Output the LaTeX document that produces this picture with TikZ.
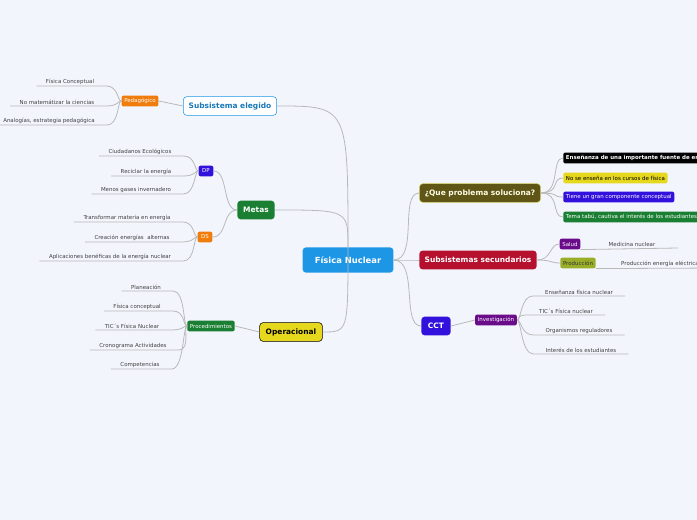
\documentclass[tikz,border=0pt]{standalone}
\usepackage{fontspec}
\setmainfont{DejaVu Sans}
\begin{document}
\begin{tikzpicture}[x=0.75pt,y=-0.75pt,
  conn/.style={draw=gray!55,line width=0.6pt},
  leaf/.style={inner sep=1pt,font=\fontsize{4.1}{5}\selectfont,text=black!75},
  tag/.style={rounded corners=1.5pt,inner sep=2pt,font=\fontsize{4.1}{5}\selectfont,minimum height=8pt},
  main/.style={rounded corners=2.5pt,font=\bfseries\fontsize{5.6}{7}\selectfont,minimum height=14pt,inner xsep=4pt}]
\definecolor{bg}{HTML}{F3F5FD}
\definecolor{cblue}{HTML}{1E96E6}
\definecolor{vio}{HTML}{3311DD}
\definecolor{org}{HTML}{F07C0C}
\definecolor{grn}{HTML}{1A7F32}
\definecolor{olv}{HTML}{5E5516}
\definecolor{crim}{HTML}{B5112E}
\definecolor{pur}{HTML}{6A0B8A}
\definecolor{lime}{HTML}{9AAE2A}
\definecolor{yel}{HTML}{E6D81C}
\fill[bg] (0,0) rectangle (697,520);
\useasboundingbox (0,0) rectangle (697,520);
\clip (0,0) rectangle (697,520);
% center
\node[main,fill=cblue,text=white,minimum width=68pt,minimum height=19pt,font=\bfseries\fontsize{6.3}{7}\selectfont] (c) at (348,260) {Física Nuclear};
% main branches
\node[main,fill=white,draw=cblue,text=cblue!80!black,minimum width=69pt] (se) at (230,106) {Subsistema elegido};
\node[main,fill=grn,text=white,minimum width=28pt] (me) at (256,210) {Metas};
\node[main,fill=yel,draw=black,minimum width=47pt] (op) at (291,332) {Operacional};
\node[main,fill=olv,draw=olv!40!yellow!60,text=white!90!yellow,minimum width=88pt] (qp) at (480,193) {¿Que problema soluciona?};
\node[main,fill=crim,text=white,minimum width=85pt] (ss) at (478,260) {Subsistemas secundarios};
\node[main,fill=vio,text=white,minimum width=22pt] (cct) at (436,326) {CCT};
\foreach \n/\a in {se/east,me/east,op/east}{\draw[conn] (c.north) .. controls (c.north|-\n.\a) .. (\n.\a);}
\foreach \n in {qp,ss,cct}{\draw[conn] (c.east) .. controls +(25,0) and +(-20,0) .. (\n.west);}
% sub tags
\node[tag,fill=org,text=white] (pe) at (140,101) {Pedagógico};
\node[tag,fill=vio,text=white,minimum width=11pt] (dp) at (206,171) {DP};
\node[tag,fill=org,text=white,minimum width=11pt] (ds) at (205,237) {DS};
\node[tag,fill=grn,text=white] (pr) at (211,326) {Procedimientos};
\node[tag,fill=pur,text=white] (inv) at (496,320) {Investigación};
\node[tag,fill=pur,text=white] (sa) at (570,244) {Salud};
\node[tag,fill=lime,text=black!80] (pd) at (578,263) {Producción};
\draw[conn] (se.west) -- (pe.east);
\draw[conn] (me.west) .. controls +(-15,0) and +(15,0) .. (dp.east);
\draw[conn] (me.west) .. controls +(-15,0) and +(15,0) .. (ds.east);
\draw[conn] (op.west) -- (pr.east);
\draw[conn] (cct.east) -- (inv.west);
\draw[conn] (ss.east) .. controls +(15,0) and +(-10,0) .. (sa.west);
\draw[conn] (ss.east) .. controls +(15,0) and +(-10,0) .. (pd.west);
% qp children
\node[tag,fill=black,text=white,font=\bfseries\fontsize{4.1}{5}\selectfont,anchor=west] (q1) at (563,158) {Enseñanza de una importante fuente de energía};
\node[tag,fill=yel,text=black,anchor=west] (q2) at (563,178) {No se enseña en los cursos de física};
\node[tag,fill=vio,text=white,anchor=west] (q3) at (563,197) {Tiene un gran componente conceptual};
\node[tag,fill=grn,text=white,anchor=west] (q4) at (563,217) {Tema tabú, cautiva el interés de los estudiantes};
\foreach \n in {q1,q2,q3,q4}{\draw[conn] (qp.east) .. controls +(20,0) and +(-12,0) .. (\n.west);}
% leaves
\newcommand{\leafL}[5]{%
  \node[leaf,anchor=south] (#1) at (#3,#4) {#5};
  \draw[conn] ([xshift=-6pt]#1.south west) -- ([xshift=8pt]#1.south east) .. controls +(12,0) and +(-4,0) .. (#2.west);}
\newcommand{\leafR}[5]{%
  \node[leaf,anchor=south] (#1) at (#3,#4) {#5};
  \draw[conn] ([xshift=8pt]#1.south east) -- ([xshift=-8pt]#1.south west) .. controls +(-12,0) and +(4,0) .. (#2.east);}
\leafL{a1}{pe}{70}{86}{Física Conceptual}
\leafL{a2}{pe}{57}{106}{No matemátizar la ciencias}
\leafL{a3}{pe}{49}{125}{Analogías, estrategia pedagógica}
\leafL{b1}{dp}{140}{156}{Ciudadanos Ecológicos}
\leafL{b2}{dp}{146}{176}{Reciclar la energía}
\leafL{b3}{dp}{136}{194}{Menos gases invernadero}
\leafL{b4}{ds}{127}{222}{Transformar materia en energía}
\leafL{b5}{ds}{132}{242}{Creación energías\ \ alternas}
\leafL{b6}{ds}{110}{261}{Aplicaciones benéficas de la energía nuclear}
\leafL{p1}{pr}{146}{291}{Planeación}
\leafL{p2}{pr}{137}{311}{Física conceptual}
\leafL{p3}{pr}{132}{330}{TIC´s Física Nuclear}
\leafL{p4}{pr}{133}{350}{Cronograma Actividades}
\leafL{p5}{pr}{140}{369}{Competencias}
\leafR{i1}{inv}{579}{296}{Enseñanza física nuclear}
\leafR{i2}{inv}{566}{315}{TIC´s Física nuclear}
\leafR{i3}{inv}{579}{335}{Organismos reguladores}
\leafR{i4}{inv}{581}{354}{Interés de los estudiantes}
\node[leaf,anchor=south] (m1) at (632,248) {Medicina nuclear};
\draw[conn] (sa.south east) -- ([xshift=16pt]m1.south east);
\node[leaf,anchor=south] (m2) at (660,268) {Producción energía eléctrica};
\draw[conn] (pd.south east) -- ([xshift=16pt]m2.south east);
\end{tikzpicture}
\end{document}
